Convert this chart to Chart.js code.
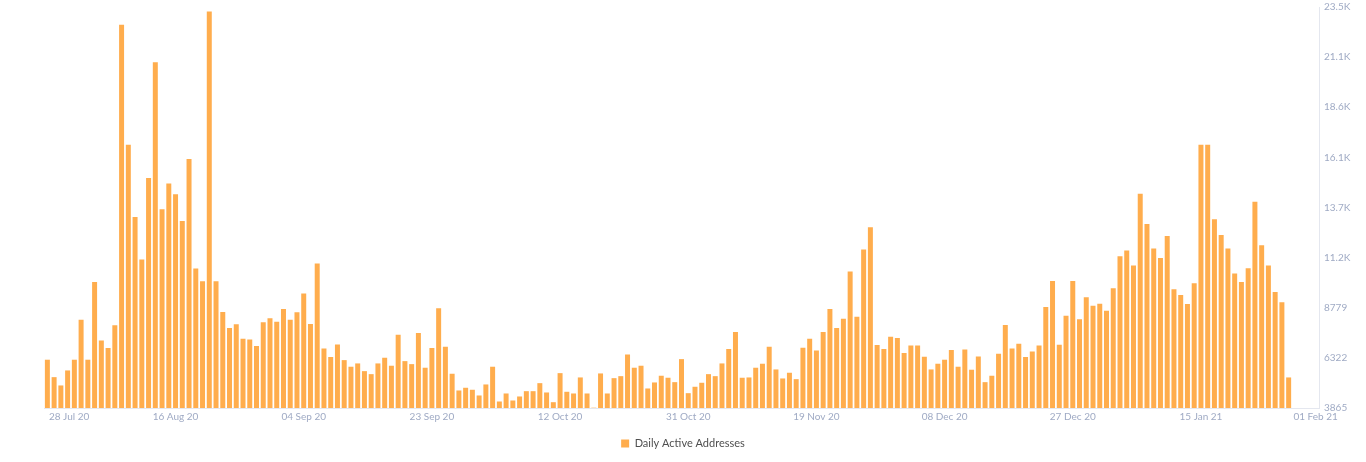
<!DOCTYPE html>
<html>
<head>
<meta charset="utf-8">
<script src="https://cdn.jsdelivr.net/npm/chart.js@4/dist/chart.umd.min.js"></script>
<style>
  html, body { margin: 0; padding: 0; background: #fff; }
  #wrap { width: 1366px; height: 462px; position: relative; }
</style>
</head>
<body>
<div id="wrap"><canvas id="daaChart"></canvas></div>
<script>
// first bar day and how many day slots the axis holds (last slot = 01 Feb 21)
const startDay = "2020-07-28";
const slotCount = 189;

const seriesName = "Daily Active Addresses";
const dailyActive = [
  6232, 5377, 4970, 5706, 6232, 8196, 6232, 10042, 7179, 6801, 7916, 22646, 16768, 13233, 11142, 15133,
  20814, 13611, 14873, 14348, 13037, 16066, 10700, 10076, 23299, 10076, 8569, 7783, 7965, 7263, 7228, 6899,
  8063, 8259, 8097, 8716, 8196, 8554, 9472, 7980, 10945, 6786, 6359, 6983, 6212, 5888, 6050, 5672,
  5525, 6050, 6330, 5937, 7459, 6163, 6016, 7538, 5839, 6801, 8750, 6870, 5544, 4724, 4857,
  4759, 4479, 5019, 5888, 4184, 4577, 4233, 4430, 4690, 4690, 5083, 4626, 4150, 5574, 4660, 4577,
  5363, 4577, 3880, 5559, 4577, 5328, 5426, 6492, 5839, 5937, 4822, 5117, 5446, 5348, 5132,
  6261, 4592, 4906, 5102, 5525, 5426, 6050, 6752, 7587, 5348, 5363, 5839, 6035, 6870, 5755, 5313,
  5593, 5279, 6821, 7263, 6688, 7587, 8716, 7783, 8245, 10552, 8343, 11633, 12728, 6948, 6752,
  7361, 7292, 6556, 6934, 6934, 6379, 5755, 6035, 6232, 6703, 5888, 6737, 5741, 6394, 5132, 5446,
  6526, 7930, 6786, 7017, 6359, 6639, 6934, 8814, 10091, 6968, 8392, 10091, 8210, 9291, 8883,
  8981, 8638, 9732, 11304, 11584, 10847, 14363, 12890, 11682, 11220, 12300, 9683, 9403, 8962, 9978, 16768,
  16768, 13120, 12349, 11682, 10454, 10042, 10714, 13970, 11844, 10847, 9551, 9045, 5363
];

const xTickLabels = ["28 Jul 20", "16 Aug 20", "04 Sep 20", "23 Sep 20", "12 Oct 20", "31 Oct 20",
  "19 Nov 20", "08 Dec 20", "27 Dec 20", "15 Jan 21", "01 Feb 21"];

const yTickValues = [3865, 6322, 8779, 11236, 13693, 16150, 18607, 21064, 23521];
const yTickLabels = ["3865", "6322", "8779", "11.2K", "13.7K", "16.1K", "18.6K", "21.1K", "23.5K"];

const MONTHS = ["Jan","Feb","Mar","Apr","May","Jun","Jul","Aug","Sep","Oct","Nov","Dec"];
const fmtDay = (d) => String(d.getUTCDate()).padStart(2, "0") + " " + MONTHS[d.getUTCMonth()] + " " + String(d.getUTCFullYear()).slice(2);

const days = [];
const t0 = new Date(startDay + "T00:00:00Z");
for (let i = 0; i < slotCount; i++) {
  days.push(fmtDay(new Date(t0.getTime() + i * 86400000)));
}

const axisText = "#9faac4";
const axisLine = "#e4e7ef";

new Chart(document.getElementById("daaChart"), {
  type: "bar",
  data: {
    labels: days,
    datasets: [{
      label: seriesName,
      data: dailyActive,
      backgroundColor: "#ffad4d",
      borderWidth: 0,
      categoryPercentage: 1,
      barPercentage: 0.74
    }]
  },
  options: {
    responsive: true,
    maintainAspectRatio: false,
    animation: false,
    layout: { padding: { left: 0, top: 7, right: 0, bottom: 3 } },
    plugins: {
      tooltip: { enabled: false },
      legend: {
        position: "bottom",
        labels: {
          boxWidth: 8, boxHeight: 8, padding: 12,
          color: "#4f4f4f",
          font: { family: "Lato", size: 11 }
        }
      }
    },
    scales: {
      x: {
        offset: true,
        grid: { display: false, drawTicks: false },
        border: { display: true, color: axisLine },
        ticks: {
          autoSkip: false,
          maxRotation: 0,
          padding: 3,
          color: axisText,
          font: { family: "Lato", size: 10 },
          callback: function (v, i) {
            const lab = days[i];
            if (!xTickLabels.includes(lab)) return null;
            // first label sits right of its tick like in the source
            return i === 0 ? "                 " + lab : lab;
          }
        }
      },
      y: {
        position: "right",
        min: yTickValues[0],
        max: yTickValues[yTickValues.length - 1],
        grid: { display: false, drawTicks: false },
        border: { display: true, color: axisLine },
        afterBuildTicks: (axis) => { axis.ticks = yTickValues.map(v => ({ value: v })); },
        afterFit: (axis) => { axis.width = 47; axis.paddingTop = 0; axis.paddingBottom = 0; },
        ticks: {
          padding: 5,
          color: axisText,
          font: { family: "Lato", size: 10 },
          callback: (v) => yTickLabels[yTickValues.indexOf(v)]
        }
      },
      // empty gutter on the left so the legend stays centred on the page
      gutter: {
        type: "linear",
        position: "left",
        grid: { display: false, drawTicks: false },
        border: { display: false },
        ticks: { display: false },
        afterFit: (axis) => { axis.width = 44; axis.paddingTop = 0; axis.paddingBottom = 0; }
      }
    }
  }
});
</script>
</body>
</html>
